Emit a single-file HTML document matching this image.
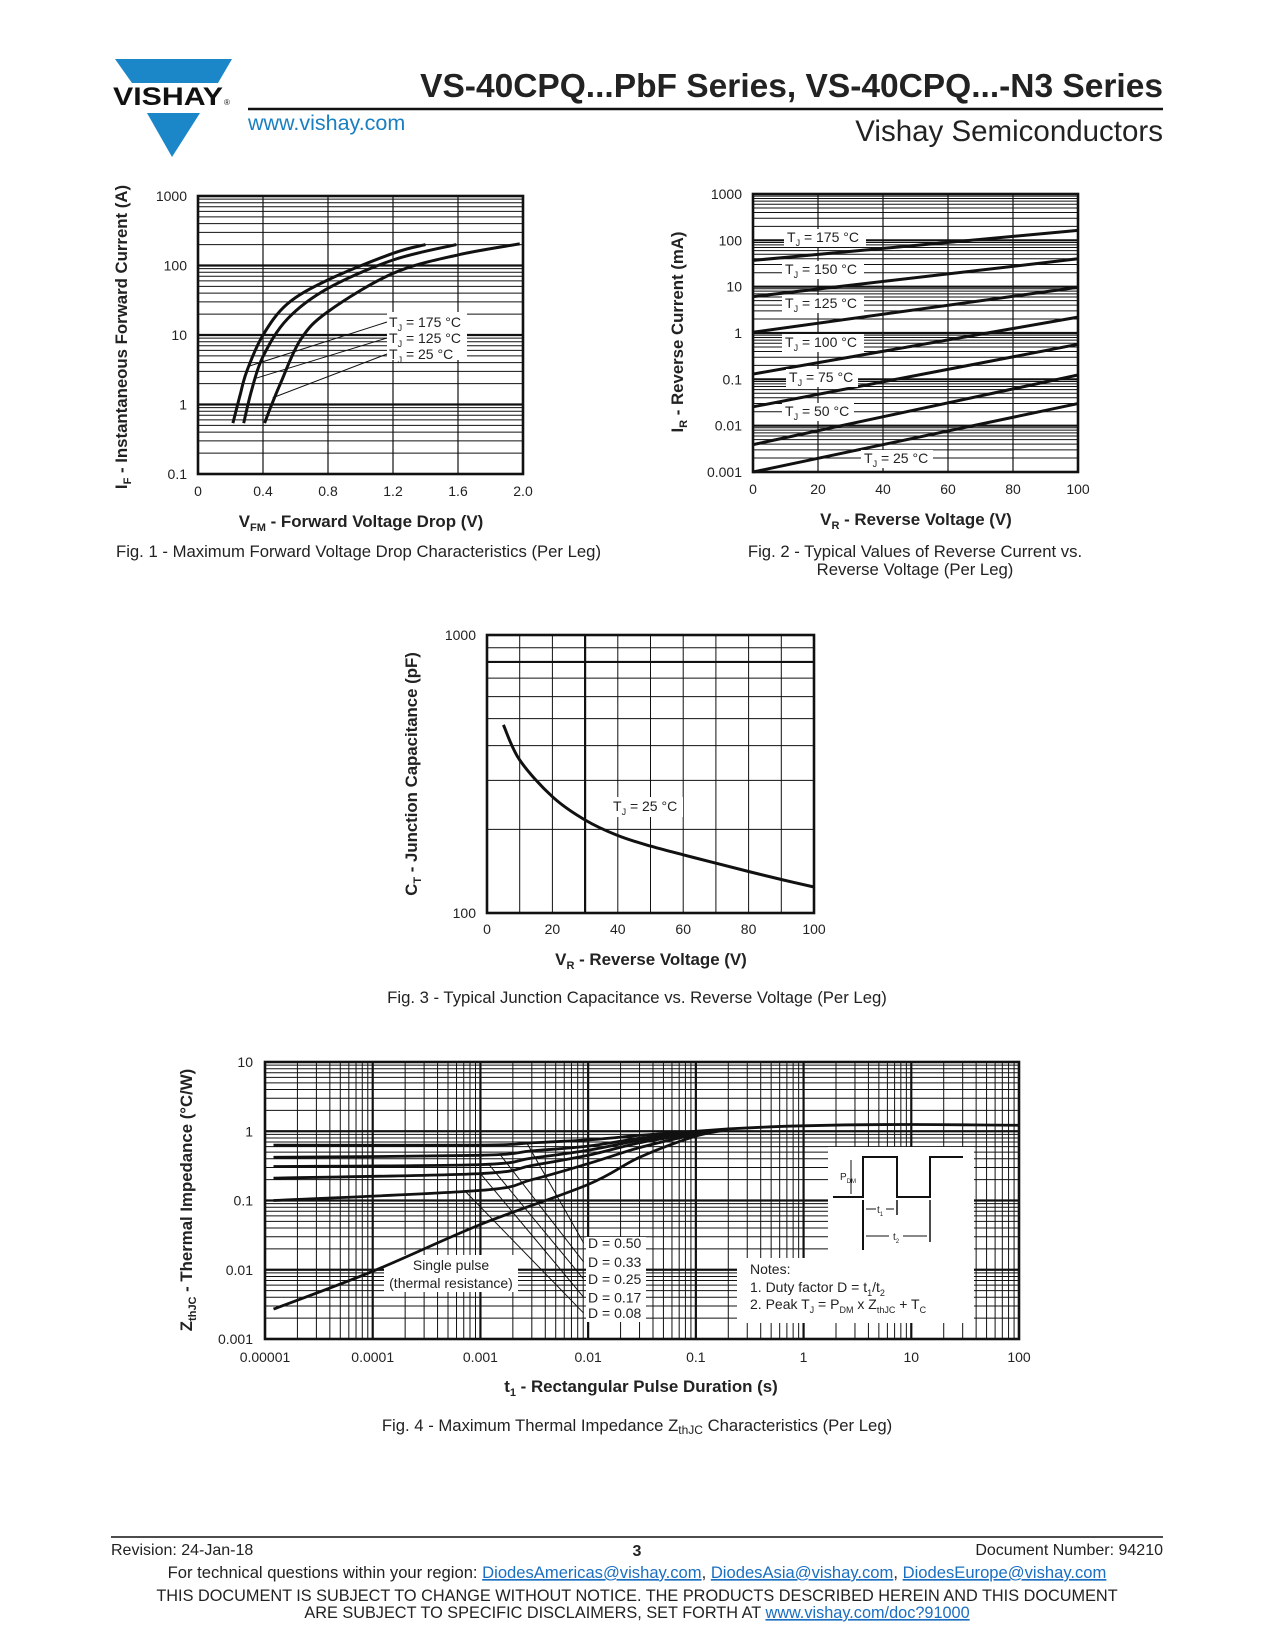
<!DOCTYPE html>
<html><head><meta charset="utf-8">
<style>
html,body{margin:0;padding:0;background:#fff;}
svg{display:block;font-family:"Liberation Sans",Arial,sans-serif;}
</style></head>
<body>
<svg id="page" width="1275" height="1650" viewBox="0 0 1275 1650" xmlns="http://www.w3.org/2000/svg">
<g>
<polygon points="115,59 232,59 218,83 132,83" fill="#1b87c9"/>
<text x="113" y="105" font-size="25" font-weight="bold" fill="#111" textLength="110" lengthAdjust="spacingAndGlyphs">VISHAY</text>
<text x="224" y="105" font-size="8" fill="#111">®</text>
<polygon points="147,113 200,113 172,157" fill="#1b87c9"/>
</g>
<text x="1163" y="97" font-size="33.5" font-weight="bold" text-anchor="end" fill="#222">VS-40CPQ...PbF Series, VS-40CPQ...-N3 Series</text>
<line x1="248" y1="109" x2="1163" y2="109" stroke="#111" stroke-width="2.5"/>
<text x="248" y="130" font-size="21.5" fill="#1a7fc1">www.vishay.com</text>
<text x="1163" y="141" font-size="29.5" text-anchor="end" fill="#222">Vishay Semiconductors</text>

<g id="fig1"></g>
<g id="fig2"></g>
<g id="fig3"></g>
<g id="fig4"></g>

<text x="116" y="557" font-size="16.7" fill="#222">Fig. 1 - Maximum Forward Voltage Drop Characteristics (Per Leg)</text>
<text x="915" y="557" font-size="16.7" text-anchor="middle" fill="#222">Fig. 2 - Typical Values of Reverse Current vs.</text>
<text x="915" y="575" font-size="16.7" text-anchor="middle" fill="#222">Reverse Voltage (Per Leg)</text>
<text x="637" y="1003" font-size="16.7" text-anchor="middle" fill="#222">Fig. 3 - Typical Junction Capacitance vs. Reverse Voltage (Per Leg)</text>
<text x="637" y="1431" font-size="16.7" text-anchor="middle" fill="#222">Fig. 4 - Maximum Thermal Impedance Z<tspan font-size="12" dy="3">thJC</tspan><tspan dy="-3"> Characteristics (Per Leg)</tspan></text>

<line x1="111" y1="1537" x2="1163" y2="1537" stroke="#111" stroke-width="1.5"/>
<text x="111" y="1555" font-size="16" fill="#222">Revision: 24-Jan-18</text>
<text x="637" y="1556" font-size="16" font-weight="bold" text-anchor="middle" fill="#222">3</text>
<text x="1163" y="1555" font-size="16" text-anchor="end" fill="#222">Document Number: 94210</text>
<text x="637" y="1578" font-size="16.6" text-anchor="middle" fill="#222">For technical questions within your region: <tspan fill="#1a6fc1" text-decoration="underline">DiodesAmericas@vishay.com</tspan>, <tspan fill="#1a6fc1" text-decoration="underline">DiodesAsia@vishay.com</tspan>, <tspan fill="#1a6fc1" text-decoration="underline">DiodesEurope@vishay.com</tspan></text>
<text x="637" y="1601" font-size="16.3" text-anchor="middle" fill="#222">THIS DOCUMENT IS SUBJECT TO CHANGE WITHOUT NOTICE. THE PRODUCTS DESCRIBED HEREIN AND THIS DOCUMENT</text>
<text x="637" y="1618" font-size="16.3" text-anchor="middle" fill="#222">ARE SUBJECT TO SPECIFIC DISCLAIMERS, SET FORTH AT <tspan fill="#1a6fc1" text-decoration="underline">www.vishay.com/doc?91000</tspan></text>
</svg>
<script>
// ---------- Fig 1 data ----------
const f1V175 = [0.215, 0.26, 0.302, 0.398, 0.55, 0.8, 1.2, 1.4];
const f1I175 = [0.54, 1.4, 3.1, 9.8, 28, 62, 150, 200];
const f1V125 = [0.281, 0.33, 0.4, 0.55, 0.8, 1.2, 1.59];
const f1I125 = [0.54, 1.6, 4.9, 17, 47, 120, 200];
const f1V25 = [0.41, 0.45, 0.507, 0.63, 0.8, 1.2, 1.6, 1.98];
const f1I25 = [0.54, 0.95, 2.0, 8.5, 21.7, 77, 142, 205];
const f1XTicks = [0, 0.4, 0.8, 1.2, 1.6, 2.0];
const f1XTickLabels = ["0", "0.4", "0.8", "1.2", "1.6", "2.0"];
const f1YTicks = [0.1, 1, 10, 100, 1000];
const f1YTickLabels = ["0.1", "1", "10", "100", "1000"];
// ---------- Fig 2 data ----------
const f2Temps = ["175", "150", "125", "100", "75", "50", "25"];
const f2IrAt0 = [36.9, 6.1, 1.04, 0.13, 0.0255, 0.0039, 0.001];
const f2IrAt100 = [164, 40, 9.7, 2.2, 0.57, 0.124, 0.030];
const f2XTicks = [0, 20, 40, 60, 80, 100];
const f2XTickLabels = ["0", "20", "40", "60", "80", "100"];
const f2YTicks = [0.001, 0.01, 0.1, 1, 10, 100, 1000];
const f2YTickLabels = ["0.001", "0.01", "0.1", "1", "10", "100", "1000"];
// ---------- Fig 3 data ----------
const f3V = [5, 10, 20, 30, 40, 50, 60, 70, 80, 90, 100];
const f3C = [475, 355, 262, 216, 190, 174, 162, 151, 141, 132, 124];
const f3XTicks = [0, 20, 40, 60, 80, 100];
const f3XTickLabels = ["0", "20", "40", "60", "80", "100"];
const f3YTickLabels = ["100", "1000"];
// ---------- Fig 4 data ----------
const f4Duty = ["0.50", "0.33", "0.25", "0.17", "0.08"];
const f4T = [1.2e-5, 1e-3, 3e-3, 1e-2, 3e-2, 0.1, 0.2];
const f4Z050 = [0.63, 0.63, 0.68, 0.75, 0.87, 1.0, 1.08];
const f4Z033 = [0.42, 0.45, 0.52, 0.61, 0.79, 0.97, 1.07];
const f4Z025 = [0.31, 0.33, 0.41, 0.53, 0.74, 0.95, 1.07];
const f4Z017 = [0.21, 0.245, 0.32, 0.45, 0.68, 0.93, 1.07];
const f4Z008 = [0.10, 0.14, 0.2, 0.34, 0.58, 0.9, 1.07];
const f4TailT = [0.2, 0.5, 1, 3, 10, 30, 100];
const f4TailZ = [1.08, 1.16, 1.2, 1.24, 1.25, 1.24, 1.22];
const f4SingleT = [1.2e-5, 1e-4, 1e-3, 1e-2, 3e-2, 0.1, 0.2];
const f4SingleZ = [0.0027, 0.0095, 0.045, 0.17, 0.42, 0.85, 1.05];
const f4LeaderStartT = [0.0027, 0.0015, 0.00118, 0.001, 0.00072];
const f4LeaderEndZ = [0.0242, 0.0129, 0.0073, 0.0040, 0.00236];
const f4XTickLabels = ["0.00001", "0.0001", "0.001", "0.01", "0.1", "1", "10", "100"];
const f4YTickLabels = ["0.001", "0.01", "0.1", "1", "10"];

const NS = "http://www.w3.org/2000/svg";
function mk(parent, tag, attrs) {
  const e = document.createElementNS(NS, tag);
  for (const k in attrs) e.setAttribute(k, attrs[k]);
  parent.appendChild(e);
  return e;
}
function linScale(d0, d1, r0, r1) { return v => r0 + (v - d0) / (d1 - d0) * (r1 - r0); }
function logScale(d0, d1, r0, r1) { const a = Math.log10(d0), b = Math.log10(d1); return v => r0 + (Math.log10(v) - a) / (b - a) * (r1 - r0); }
function smoothPath(pts) {
  let d = "M" + pts[0][0].toFixed(1) + "," + pts[0][1].toFixed(1);
  for (let i = 0; i < pts.length - 1; i++) {
    const p0 = pts[Math.max(0, i - 1)], p1 = pts[i], p2 = pts[i + 1], p3 = pts[Math.min(pts.length - 1, i + 2)];
    const c1 = [p1[0] + (p2[0] - p0[0]) / 6, p1[1] + (p2[1] - p0[1]) / 6];
    const c2 = [p2[0] - (p3[0] - p1[0]) / 6, p2[1] - (p3[1] - p1[1]) / 6];
    d += " C" + c1.map(v => v.toFixed(1)).join(",") + " " + c2.map(v => v.toFixed(1)).join(",") + " " + p2.map(v => v.toFixed(1)).join(",");
  }
  return d;
}
function tjText(g, x, y, temp, anchor) {
  const t = mk(g, "text", { x: x, y: y, "font-size": 14, fill: "#222", "text-anchor": anchor || "start" });
  
  
  t.innerHTML = 'T<tspan font-size="9" dy="4">J</tspan><tspan dy="-4"> = ' + temp + ' °C</tspan>';
  return t;
}
function hLogGrid(g, yS, lo, hi, x0, x1, thickDecade) {
  for (let e = Math.log10(lo); e < Math.log10(hi); e++) {
    for (let m = 1; m <= 9; m++) {
      const v = Math.pow(10, e) * m;
      if (m === 1 && v === lo) continue;
      const y = yS(v);
      const l = mk(g, "line", { x1: x0, x2: x1, y1: y, y2: y, stroke: "#111", "stroke-width": (m === 1 && thickDecade) ? 2.2 : 1 });
      
      
    }
  }
}
function frame(g, x0, y0, x1, y1) {
  const r = mk(g, "rect", { x: x0, y: y0, width: x1 - x0, height: y1 - y0, fill: "none", stroke: "#111", "stroke-width": 2.6 });
  
  
}
function whiteBox(g, x, y, w, h) {
  const r = mk(g, "rect", { x: x, y: y, width: w, height: h, fill: "#fff" });
  
  
}
function curve(g, d, name, w) {
  const p = mk(g, "path", { d: d, fill: "none", stroke: "#111", "stroke-width": w || 3, "stroke-linejoin": "round" });
  
  
  return p;
}
function label(g, x, y, txt, anchor, size, name, bold) {
  const t = mk(g, "text", { x: x, y: y, "font-size": size || 14, fill: "#222", "text-anchor": anchor || "middle" });
  if (bold) t.setAttribute("font-weight", "bold");
  
  
  t.innerHTML = txt;
  return t;
}
function vLabel(g, x, y, html, name) {
  const t = mk(g, "text", { x: 0, y: 0, "font-size": 16.8, "font-weight": "bold", fill: "#222", "text-anchor": "middle", transform: "translate(" + x + "," + y + ") rotate(-90)" });
  
  
  t.innerHTML = html;
}

// ================= FIG 1 =================
(function () {
  const g = document.getElementById("fig1");
  const X0 = 198, X1 = 523, Y0 = 196, Y1 = 474;
  const x = linScale(0, 2, X0, X1), y = logScale(0.1, 1000, Y1, Y0);
  hLogGrid(g, y, 0.1, 1000, X0, X1, true);
  f1XTicks.forEach(v => {
    const l = mk(g, "line", { x1: x(v), x2: x(v), y1: Y0, y2: Y1, stroke: "#111", "stroke-width": 1.2 });
    
    
  });
  frame(g, X0, Y0, X1, Y1);
  const series = [[f1V175, f1I175, "175"], [f1V125, f1I125, "125"], [f1V25, f1I25, "25"]];
  series.forEach(s => curve(g, smoothPath(s[0].map((v, i) => [x(v), y(s[1][i])])), "forward-curve-" + s[2]));
  whiteBox(g, 387, 312, 80, 48);
  const leadStart = [[0.32, 3.6], [0.36, 2.4], [0.46, 1.25]];
  const leadY = [322, 338, 354];
  ["175", "125", "25"].forEach((t, i) => {
    const l = mk(g, "line", { x1: x(leadStart[i][0]), y1: y(leadStart[i][1]), x2: 387, y2: leadY[i], stroke: "#111", "stroke-width": 1 });
    
    
    tjText(g, 389, leadY[i] + 5, t);
  });
  f1XTicks.forEach((v, i) => label(g, x(v), 496, f1XTickLabels[i], "middle", 14, "x-tick-label"));
  f1YTicks.forEach((v, i) => label(g, 187, y(v) + 5, f1YTickLabels[i], "end", 14, "y-tick-label"));
  label(g, 361, 527, 'V<tspan font-size="11" dy="4">FM</tspan><tspan dy="-4"> - Forward Voltage Drop (V)</tspan>', "middle", 16.9, "x-axis-title", true);
  vLabel(g, 127, 337, 'I<tspan font-size="11" dy="4">F</tspan><tspan dy="-4"> - Instantaneous Forward Current (A)</tspan>', "y-axis-title");
})();

// ================= FIG 2 =================
(function () {
  const g = document.getElementById("fig2");
  const X0 = 753, X1 = 1078, Y0 = 194, Y1 = 472;
  const x = linScale(0, 100, X0, X1), y = logScale(0.001, 1000, Y1, Y0);
  hLogGrid(g, y, 0.001, 1000, X0, X1, true);
  f2XTicks.forEach(v => {
    const l = mk(g, "line", { x1: x(v), x2: x(v), y1: Y0, y2: Y1, stroke: "#111", "stroke-width": 1.2 });
    
    
  });
  frame(g, X0, Y0, X1, Y1);
  const lblY = [238, 270, 304, 343, 378, 412, 459];
  const lblX = [785, 783, 783, 783, 787, 783, 862];
  f2Temps.forEach((t, i) => {
    const p = mk(g, "line", { x1: x(0), y1: y(f2IrAt0[i]), x2: x(100), y2: y(f2IrAt100[i]), stroke: "#111", "stroke-width": 3 });
    
    
  });
  f2Temps.forEach((t, i) => {
    const w = t.length === 3 ? 82 : 72;
    whiteBox(g, lblX[i] - 1, lblY[i] - 9, w, 18);
    tjText(g, lblX[i] + 2, lblY[i] + 4, t);
  });
  f2XTicks.forEach((v, i) => label(g, x(v), 494, f2XTickLabels[i], "middle", 14, "x-tick-label"));
  f2YTicks.forEach((v, i) => label(g, 742, y(v) + 5, f2YTickLabels[i], "end", 14, "y-tick-label"));
  label(g, 916, 525, 'V<tspan font-size="11" dy="4">R</tspan><tspan dy="-4"> - Reverse Voltage (V)</tspan>', "middle", 16.9, "x-axis-title", true);
  vLabel(g, 683, 332, 'I<tspan font-size="11" dy="4">R</tspan><tspan dy="-4"> - Reverse Current (mA)</tspan>', "y-axis-title");
})();

// ================= FIG 3 =================
(function () {
  const g = document.getElementById("fig3");
  const X0 = 487, X1 = 814, Y0 = 635, Y1 = 913;
  const x = linScale(0, 100, X0, X1), y = logScale(100, 1000, Y1, Y0);
  for (let m = 2; m <= 9; m++) {
    const l = mk(g, "line", { x1: X0, x2: X1, y1: y(m * 100), y2: y(m * 100), stroke: "#111", "stroke-width": m === 8 ? 2.2 : 1 });
    
    
  }
  for (let v = 10; v < 100; v += 10) {
    const l = mk(g, "line", { x1: x(v), x2: x(v), y1: Y0, y2: Y1, stroke: "#111", "stroke-width": v === 30 ? 2.2 : 1 });
    
    
  }
  frame(g, X0, Y0, X1, Y1);
  curve(g, smoothPath(f3V.map((v, i) => [x(v), y(f3C[i])])), "capacitance-curve");
  whiteBox(g, 611, 797, 72, 20);
  tjText(g, 613, 811, "25");
  f3XTicks.forEach((v, i) => label(g, x(v), 934, f3XTickLabels[i], "middle", 14, "x-tick-label"));
  label(g, 476, 918, f3YTickLabels[0], "end", 14, "y-tick-label");
  label(g, 476, 640, f3YTickLabels[1], "end", 14, "y-tick-label");
  label(g, 651, 965, 'V<tspan font-size="11" dy="4">R</tspan><tspan dy="-4"> - Reverse Voltage (V)</tspan>', "middle", 16.9, "x-axis-title", true);
  vLabel(g, 417, 774, 'C<tspan font-size="11" dy="4">T</tspan><tspan dy="-4"> - Junction Capacitance (pF)</tspan>', "y-axis-title");
})();

// ================= FIG 4 =================
(function () {
  const g = document.getElementById("fig4");
  const X0 = 265, X1 = 1019, Y0 = 1062, Y1 = 1339;
  const x = logScale(1e-5, 100, X0, X1), y = logScale(0.001, 10, Y1, Y0);
  hLogGrid(g, y, 0.001, 10, X0, X1, true);
  for (let e = -5; e < 2; e++) {
    for (let m = 1; m <= 9; m++) {
      if (e === -5 && m === 1) continue;
      const v = Math.pow(10, e) * m;
      const l = mk(g, "line", { x1: x(v), x2: x(v), y1: Y0, y2: Y1, stroke: "#111", "stroke-width": m === 1 ? 2.2 : 1 });
      
      
    }
  }
  frame(g, X0, Y0, X1, Y1);
  whiteBox(g, 828, 1147, 146, 176);
  whiteBox(g, 737, 1258, 237, 65);
  whiteBox(g, 384, 1255, 134, 37);
  whiteBox(g, 586, 1237, 60, 85);
  const dutyZ = [f4Z050, f4Z033, f4Z025, f4Z017, f4Z008];
  dutyZ.forEach((zs, i) => curve(g, smoothPath(f4T.map((t, j) => [x(t), y(zs[j])])), "duty-curve-" + f4Duty[i], 2.8));
  curve(g, smoothPath(f4TailT.map((t, j) => [x(t), y(f4TailZ[j])])), "steady-state-curve", 2.8);
  curve(g, smoothPath(f4SingleT.map((t, j) => [x(t), y(f4SingleZ[j])])), "single-pulse-curve", 2.8);
  const dutyIntp = (zs, t) => {
    for (let j = 0; j < f4T.length - 1; j++) if (t >= f4T[j] && t <= f4T[j + 1]) {
      const f = (Math.log10(t) - Math.log10(f4T[j])) / (Math.log10(f4T[j + 1]) - Math.log10(f4T[j]));
      return Math.pow(10, Math.log10(zs[j]) + f * (Math.log10(zs[j + 1]) - Math.log10(zs[j])));
    }
    return zs[0];
  };
  f4Duty.forEach((d, i) => {
    const l = mk(g, "line", { x1: x(f4LeaderStartT[i]), y1: y(dutyIntp(dutyZ[i], f4LeaderStartT[i])), x2: x(0.0091), y2: y(f4LeaderEndZ[i]), stroke: "#111", "stroke-width": 1 });
    
    
    label(g, 588, y(f4LeaderEndZ[i]) + 5, "D = " + d, "start", 14, "duty-label-" + d);
  });
  label(g, 451, 1270, "Single pulse", "middle", 14, "single-pulse-label");
  label(g, 451, 1288, "(thermal resistance)", "middle", 14, "single-pulse-sublabel");
  label(g, 750, 1274, "Notes:", "start", 14, "notes-title");
  label(g, 750, 1292, '1. Duty factor D = t<tspan font-size="9" dy="4">1</tspan><tspan dy="-4">/t</tspan><tspan font-size="9" dy="4">2</tspan>', "start", 14, "note-duty-factor");
  label(g, 750, 1309, '2. Peak T<tspan font-size="9" dy="4">J</tspan><tspan dy="-4"> = P</tspan><tspan font-size="9" dy="4">DM</tspan><tspan dy="-4"> x Z</tspan><tspan font-size="9" dy="4">thJC</tspan><tspan dy="-4"> + T</tspan><tspan font-size="9" dy="4">C</tspan>', "start", 14, "note-peak-temp");
  const wave = mk(g, "polyline", { points: "833,1197 863,1197 863,1157 897,1157 897,1197 930,1197 930,1157 963,1157", fill: "none", stroke: "#111", "stroke-width": 2 });
  
  
  const dl = [[863, 1200, 863, 1250, 2], [897, 1200, 897, 1215, 1.5], [930, 1200, 930, 1242, 1.5], [851, 1160, 851, 1194, 1], [866, 1209, 894, 1209, 1], [866, 1236, 927, 1236, 1]];
  dl.forEach(a => {
    const l = mk(g, "line", { x1: a[0], y1: a[1], x2: a[2], y2: a[3], stroke: "#111", "stroke-width": a[4] });
    
    
  });
  whiteBox(g, 876, 1201, 10, 14);
  whiteBox(g, 889, 1228, 14, 16);
  label(g, 848, 1180, 'P<tspan font-size="6" dy="3">DM</tspan>', "middle", 10, "pdm-label");
  label(g, 880, 1213, 't<tspan font-size="6" dy="3">1</tspan>', "middle", 10, "t1-label");
  label(g, 896, 1240, 't<tspan font-size="6" dy="3">2</tspan>', "middle", 10, "t2-label");
  f4XTickLabels.forEach((s, i) => label(g, x(Math.pow(10, i - 5)), 1362, s, "middle", 14, "x-tick-label"));
  f4YTickLabels.forEach((s, i) => label(g, 253, y(Math.pow(10, i - 3)) + 5, s, "end", 14, "y-tick-label"));
  label(g, 641, 1392, 't<tspan font-size="11" dy="4">1</tspan><tspan dy="-4"> - Rectangular Pulse Duration (s)</tspan>', "middle", 16.9, "x-axis-title", true);
  vLabel(g, 192, 1200, 'Z<tspan font-size="11" dy="4">thJC</tspan><tspan dy="-4"> - Thermal Impedance (°C/W)</tspan>', "y-axis-title");
})();
</script>
</body></html>
